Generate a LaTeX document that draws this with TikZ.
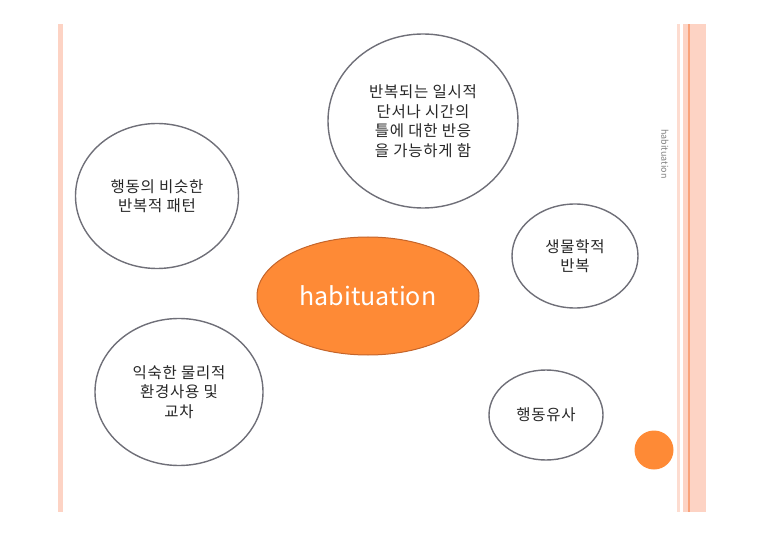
\documentclass[tikz,border=0pt]{standalone}
\usepackage{fontspec}
\setmainfont{Noto Sans CJK KR}
\newfontfamily\bubblefont[LetterSpace=5]{Noto Sans CJK KR}
\usepackage{tikz}
\usetikzlibrary{shapes.geometric,positioning}
\usepackage{xcolor}
\definecolor{bandpeach}{HTML}{FDD3C4}
\definecolor{bandline}{HTML}{F9A27A}
\definecolor{hotorange}{HTML}{FE8A36}
\definecolor{hotedge}{HTML}{C4642A}
\definecolor{rimgray}{HTML}{6F6F78}

\begin{document}
\begin{tikzpicture}[x=1bp,y=-1bp,
    bubble/.style={ellipse, draw=rimgray, line width=1.4bp, inner sep=0pt,
      align=center, text=black!85, font=\bubblefont\fontsize{15.5bp}{19.5bp}\selectfont},
    hub/.style={ellipse, draw=hotedge, line width=1bp, fill=hotorange,
      inner sep=0pt, text=white, font=\fontsize{25bp}{30bp}\selectfont}]
    \useasboundingbox (0,0) rectangle (760,537);

    % Border stripes
    \fill[bandpeach] (58,24) rectangle (63,512);
    \fill[bandpeach!80] (676.5,24) rectangle (679.5,512);
    \fill[bandpeach] (683,24) rectangle (706,512);
    \fill[bandline] (688,24) rectangle (690,512);

    % Centre
    \node[hub, minimum width=222bp, minimum height=118bp] (hab) at (368,296) {habituation};

    % Bubbles
    \node[bubble, minimum width=190bp, minimum height=174bp] (rep) at (423,121)
      {반복되는 일시적\\단서나 시간의\\틀에 대한 반응\\을 가능하게 함};
    \node[bubble, minimum width=163bp, minimum height=145bp] (pat) at (157,196)
      {행동의 비슷한\\반복적 패턴};
    \node[bubble, minimum width=126bp, minimum height=104bp] (bio) at (575,256)
      {생물학적\\반복};
    \node[bubble, minimum width=168bp, minimum height=147bp] (env) at (179,392)
      {익숙한 물리적\\환경사용 및\\교차};
    \node[bubble, minimum width=114bp, minimum height=90bp] (sim) at (546,415)
      {행동유사};

    % Side marks
    \node[circle, fill=hotorange, minimum size=39bp, inner sep=0pt] (dot) at (654,450) {};
    \node[rotate=-90, text=black!50, font=\fontsize{9bp}{10bp}\selectfont] (side) at (665,154) {habituation};
\end{tikzpicture}
\end{document}
